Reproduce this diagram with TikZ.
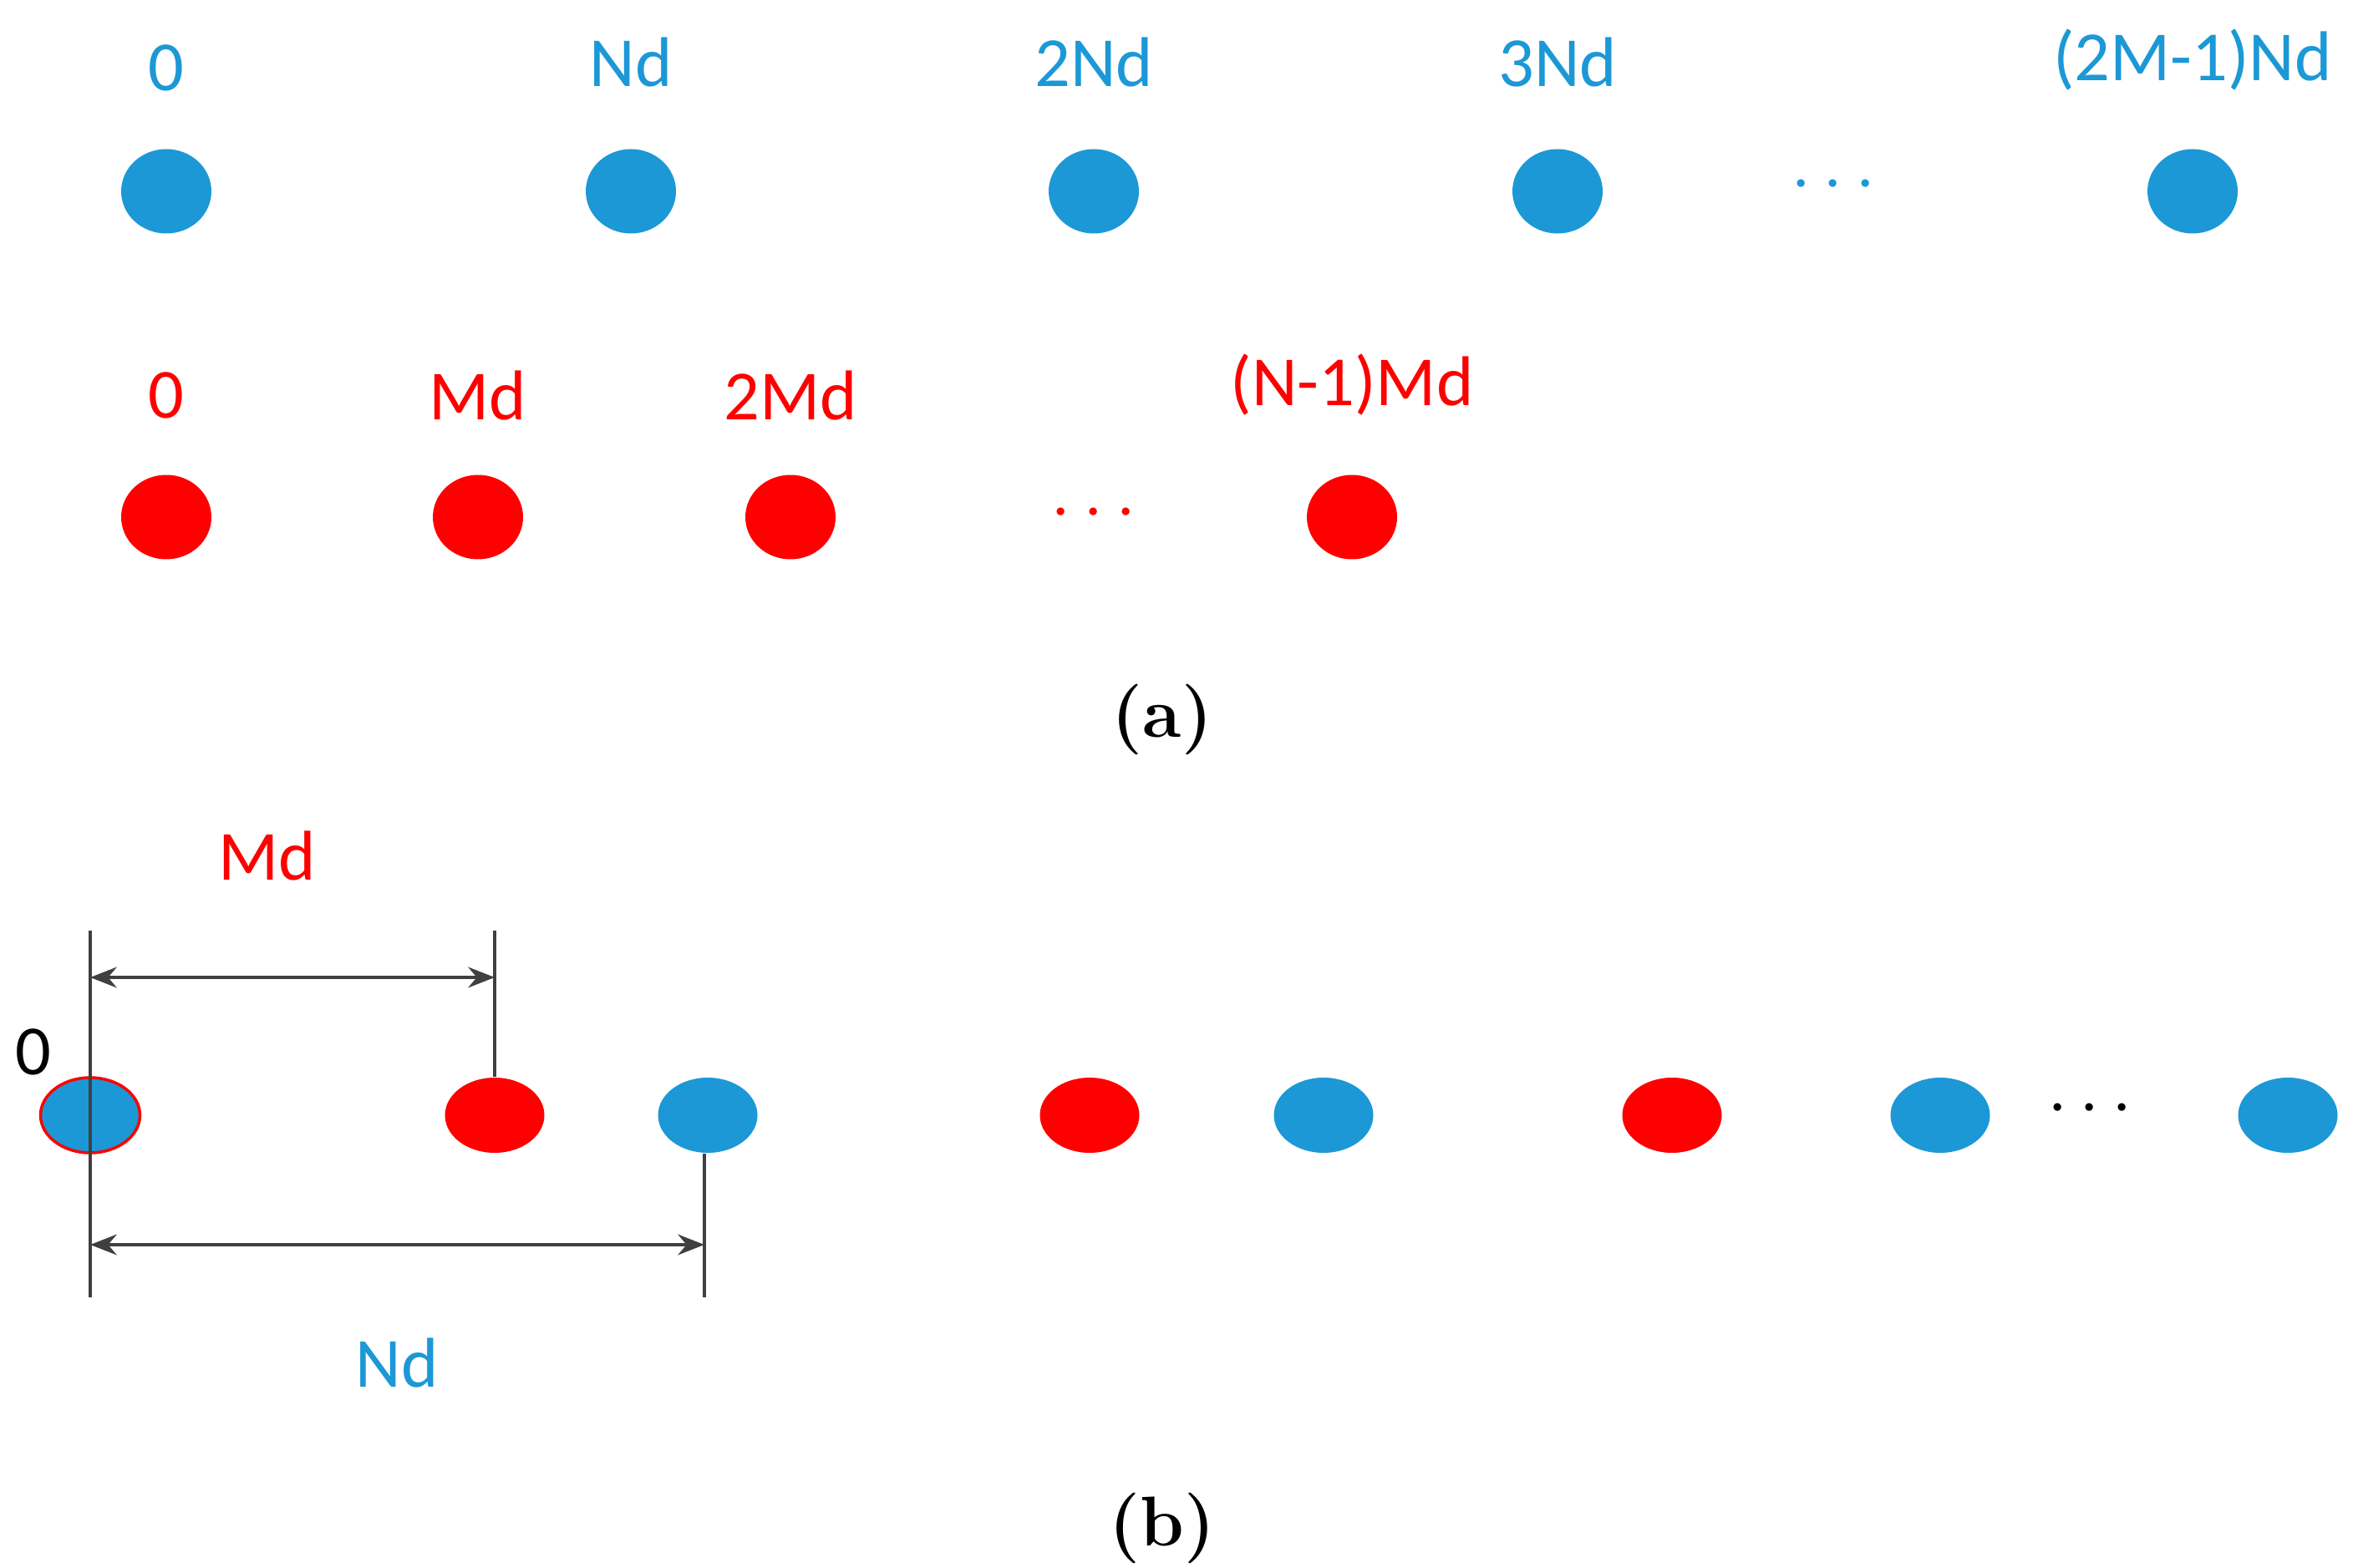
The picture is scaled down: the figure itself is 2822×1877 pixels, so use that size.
\documentclass[tikz,border=0pt]{standalone}
\usepackage{fontspec}
\setsansfont{Carlito}
\usetikzlibrary{arrows.meta,shapes.geometric}
\definecolor{cblue}{RGB}{28,152,214}
\definecolor{cred}{RGB}{255,0,0}
\begin{document}
\begin{tikzpicture}[x=0.01cm,y=-0.01cm,
  lab/.style={font=\sffamily\fontsize{24}{28}\selectfont},
  bl/.style={lab,text=cblue},
  rl/.style={lab,text=cred},
  bdot/.style={ellipse,fill=cblue,minimum width=108*0.01cm,minimum height=101*0.01cm,inner sep=0pt},
  rdot/.style={ellipse,fill=cred,minimum width=108*0.01cm,minimum height=101*0.01cm,inner sep=0pt},
  bdotb/.style={ellipse,fill=cblue,minimum width=119*0.01cm,minimum height=90*0.01cm,inner sep=0pt},
  rdotb/.style={ellipse,fill=cred,minimum width=119*0.01cm,minimum height=90*0.01cm,inner sep=0pt},
  dim/.style={draw=black!75,line width=1.2pt},
  darr/.style={dim,{Stealth[length=9pt,width=7pt]}-{Stealth[length=9pt,width=7pt]}},
  captxt/.style={font=\fontsize{24}{28}\selectfont\bfseries}]
\useasboundingbox[fill=white] (0,0) rectangle (2822,1877);
% (a) top row
\node[bdot] (b1) at (199,229) {};
\node[bdot] (b2) at (755,229) {};
\node[bdot] (b3) at (1309,229) {};
\node[bdot] (b4) at (1864,229) {};
\node[bdot] (b5) at (2624,229) {};
\node[bl] (bd) at (2194,222) {\textbf{$\cdots$}};
\node[bl] (lb1) at (199,81) {0};
\node[bl] (lb2) at (755,75) {Nd};
\node[bl] (lb3) at (1309,75) {2Nd};
\node[bl] (lb4) at (1864,75) {3Nd};
\node[bl] (lb5) at (2624,72) {(2M-1)Nd};
\node[rdot] (r1) at (199,619) {};
\node[rdot] (r2) at (572,619) {};
\node[rdot] (r3) at (946,619) {};
\node[rdot] (r4) at (1618,619) {};
\node[rl] (rd) at (1309,615) {\textbf{$\cdots$}};
\node[rl] (lr1) at (199,473) {0};
\node[rl] (lr2) at (572,473) {Md};
\node[rl] (lr3) at (946,473) {2Md};
\node[rl] (lr4) at (1618,460) {(N-1)Md};
\node[captxt] (ca) at (1391,861) {(a)};
% (b)
\node[bdotb,draw=cred,line width=1pt] (p1) at (108,1335) {};
\node[rdotb] (p2) at (592,1335) {};
\node[bdotb] (p3) at (847,1335) {};
\node[rdotb] (p4) at (1304,1335) {};
\node[bdotb] (p5) at (1584,1335) {};
\node[rdotb] (p6) at (2001,1335) {};
\node[bdotb] (p7) at (2322,1335) {};
\node[bdotb] (p8) at (2738,1335) {};
\node[lab] (pd) at (2501,1328) {\textbf{$\cdots$}};
\node[lab] (z) at (40,1259) {0};
\coordinate (v1t) at (108,1114);
\coordinate (v1b) at (108,1553);
\coordinate (v2t) at (592,1114);
\coordinate (v3b) at (843,1553);
\draw[dim] (v1t) -- (v1b);
\draw[dim] (v2t) -- (p2.north);
\draw[dim] (p3.south -| v3b) -- (v3b);
\draw[darr] (108,1170) -- (592,1170);
\draw[darr] (108,1490) -- (843,1490);
\node[rl] (md) at (320,1024) {Md};
\node[bl] (nd) at (475,1631) {Nd};
\node[captxt] (cb) at (1391,1829) {(b)};
\end{tikzpicture}
\end{document}
